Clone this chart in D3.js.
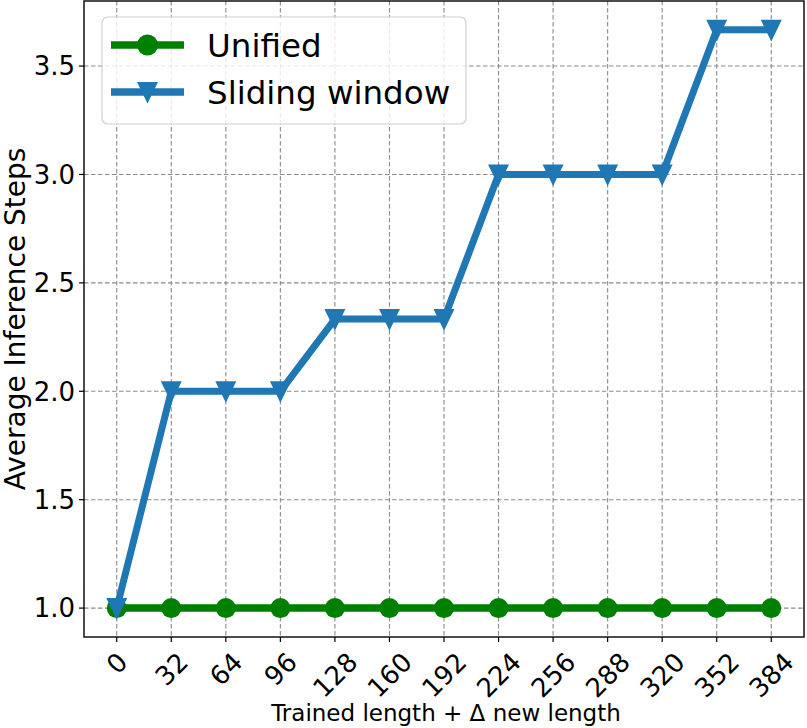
<!DOCTYPE html>
<html>
<head>
<meta charset="utf-8">
<script src="https://cdn.jsdelivr.net/npm/d3@7/dist/d3.min.js"></script>
<style>
  html, body { margin: 0; padding: 0; background: #fff; }
  svg { display: block; font-family: "DejaVu Sans", sans-serif; }
</style>
</head>
<body>
<svg id="chart" width="807" height="728"></svg>
<script>
const xValues = [0, 32, 64, 96, 128, 160, 192, 224, 256, 288, 320, 352, 384];
const unified = [1, 1, 1, 1, 1, 1, 1, 1, 1, 1, 1, 1, 1];
const slidingWindow = [1, 2, 2, 2, 2.333, 2.333, 2.333, 3, 3, 3, 3, 3.667, 3.667];
const yTicks = [1.0, 1.5, 2.0, 2.5, 3.0, 3.5];
const seriesNames = ["Unified", "Sliding window"];
const xLabel = "Trained length + Δ new length";
const yLabel = "Average Inference Steps";

(function () {
const svg = d3.select("#chart");
const pL = 84, pR = 804, pT = 1, pB = 637;

const x = d3.scaleLinear().domain([-19.2, 403.2]).range([pL, pR]);
const y = d3.scaleLinear().domain([0.8667, 3.8]).range([pB, pT]);

const gridColor = "#8a8a8a";
const grid = svg.append("g");
grid.selectAll("line.vx").data(xValues).join("line")
  .attr("x1", d => x(d)).attr("x2", d => x(d))
  .attr("y1", pT).attr("y2", pB)
  .attr("stroke", gridColor).attr("stroke-width", 1.1).attr("stroke-dasharray", "4.5,2.5");
grid.selectAll("line.hy").data(yTicks).join("line")
  .attr("x1", pL).attr("x2", pR)
  .attr("y1", d => y(d)).attr("y2", d => y(d))
  .attr("stroke", gridColor).attr("stroke-width", 1.1).attr("stroke-dasharray", "4.5,2.5");

const line = d3.line().x((d, i) => x(xValues[i])).y(d => y(d));
const green = "#008000", blue = "#1f77b4";

svg.append("path").datum(unified).attr("d", line)
  .attr("fill", "none").attr("stroke", green).attr("stroke-width", 7.5)
  .attr("stroke-linejoin", "round");
svg.selectAll("circle.u").data(unified).join("circle")
  .attr("cx", (d, i) => x(xValues[i])).attr("cy", d => y(d)).attr("r", 10)
  .attr("fill", green);

const tri = (cx, cy, s) => `M${cx - s},${cy - s * 0.95}L${cx + s},${cy - s * 0.95}L${cx},${cy + s * 1.1}Z`;
svg.append("path").datum(slidingWindow).attr("d", line)
  .attr("fill", "none").attr("stroke", blue).attr("stroke-width", 7)
  .attr("stroke-linejoin", "round");
svg.selectAll("path.s").data(slidingWindow).join("path")
  .attr("d", (d, i) => tri(x(xValues[i]), y(d), 10.5))
  .attr("fill", blue);

svg.append("rect").attr("x", pL).attr("y", pT)
  .attr("width", pR - pL).attr("height", pB - pT)
  .attr("fill", "none").attr("stroke", "#000").attr("stroke-width", 1.4);

const fs = 26;
const yAx = svg.append("g");
yAx.selectAll("line").data(yTicks).join("line")
  .attr("x1", pL - 5).attr("x2", pL).attr("y1", d => y(d)).attr("y2", d => y(d))
  .attr("stroke", "#000").attr("stroke-width", 1.2);
yAx.selectAll("text").data(yTicks).join("text")
  .attr("x", pL - 9).attr("y", d => y(d)).attr("dy", "0.36em")
  .attr("text-anchor", "end").attr("font-size", fs)
  .text(d => d3.format(".1f")(d));

const xAx = svg.append("g");
xAx.selectAll("line").data(xValues).join("line")
  .attr("x1", d => x(d)).attr("x2", d => x(d)).attr("y1", pB).attr("y2", pB + 5)
  .attr("stroke", "#000").attr("stroke-width", 1.2);
xAx.selectAll("text").data(xValues).join("text")
  .attr("font-size", fs).attr("text-anchor", "middle").attr("dy", "0.36em")
  .text(d => d)
  .each(function(d) {
    const w = this.getComputedTextLength();
    const h = fs * 1.0;
    const cy = pB + 11 + (w + h) / (2 * Math.SQRT2);
    d3.select(this).attr("transform", `translate(${x(d)},${cy}) rotate(-45)`);
  });

svg.append("text").attr("x", (pL + pR) / 2 + 2).attr("y", 721)
  .attr("text-anchor", "middle").attr("font-size", 23).text(xLabel);
svg.append("text").attr("transform", `translate(25,${(pT + pB) / 2}) rotate(-90)`)
  .attr("text-anchor", "middle").attr("font-size", 28).text(yLabel);

const lg = svg.append("g");
lg.append("rect").attr("x", 102).attr("y", 17).attr("width", 364).attr("height", 107)
  .attr("rx", 6).attr("fill", "#fff").attr("fill-opacity", 0.8)
  .attr("stroke", "#d0d0d0").attr("stroke-width", 1.2);
const legendY = [45, 92];
const legendColors = [green, blue];
seriesNames.forEach((name, i) => {
  const ly = legendY[i];
  lg.append("line").attr("x1", 111).attr("x2", 184).attr("y1", ly).attr("y2", ly)
    .attr("stroke", legendColors[i]).attr("stroke-width", 7.5);
  if (i === 0) {
    lg.append("circle").attr("cx", 147.5).attr("cy", ly).attr("r", 10.5).attr("fill", green);
  } else {
    lg.append("path").attr("d", tri(147.5, ly, 10.5)).attr("fill", blue);
  }
  lg.append("text").attr("x", 207).attr("y", ly).attr("dy", "0.37em")
    .attr("font-size", 32.5).text(name);
});
})();
</script>
</body>
</html>
